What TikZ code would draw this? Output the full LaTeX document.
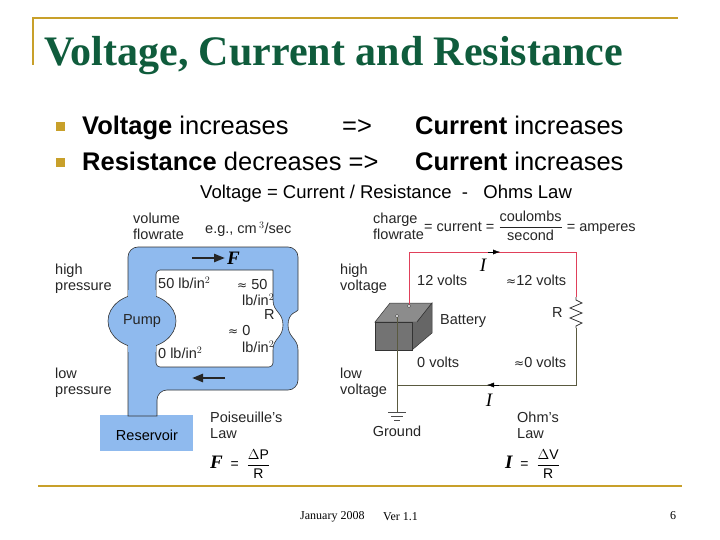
\documentclass[tikz,border=0pt]{standalone}
\usepackage{fontspec}
\setmainfont{Liberation Sans}
\newfontfamily\serif{Liberation Serif}
\newfontfamily\djsans{DejaVu Sans}
\usetikzlibrary{arrows.meta}
\definecolor{gold}{HTML}{C8A02A}
\definecolor{ttl}{HTML}{0F5C3C}
\definecolor{pipe}{HTML}{8FBAEE}
\definecolor{wire}{HTML}{E0405A}
\definecolor{olive}{HTML}{5A5A40}
\newcommand\approxs{{\djsans\fontsize{12}{12}\selectfont ≈}}
\tikzset{
 lbl/.style={anchor=west,inner sep=0pt,font=\fontsize{14.5}{16}\selectfont,text=black!85},
 clbl/.style={inner sep=0pt,font=\fontsize{14.5}{16}\selectfont,text=black!85},
 bul/.style={anchor=base west,inner sep=0pt,font=\fontsize{25.5}{28}\selectfont},
 foot/.style={inner sep=0pt,font=\serif\fontsize{12}{14}\selectfont},
 flow/.style={-{Triangle[length=11pt,width=8pt]},line width=2.4pt,black!85},
}
\begin{document}
\begin{tikzpicture}[x=1pt,y=-1pt]
\useasboundingbox (0,0) rectangle (720,540);
\fill[white] (0,0) rectangle (720,540);
% frame lines
\draw[gold,line width=1.6pt] (33,65) -- (33,18) -- (678,18);
\draw[gold,line width=1.6pt] (38,486) -- (682,486);
\node[anchor=west,inner sep=0pt,text=ttl,font=\serif\bfseries\fontsize{42}{44}\selectfont] (title) at (44,56) {Voltage, Current and Resistance};
% bullets
\fill[gold] (56,122) rectangle (65,131);
\fill[gold] (56,158) rectangle (65,167);
\node[bul] (b1) at (82,135) {\textbf{Voltage} increases};
\node[bul] (b1a) at (342,135) {=>};
\node[bul] (b1b) at (415,135) {\textbf{Current} increases};
\node[bul] (b2) at (82,171) {\textbf{Resistance} decreases =>};
\node[bul] (b2b) at (415,171) {\textbf{Current} increases};
\node[anchor=west,inner sep=0pt,font=\fontsize{18.5}{20}\selectfont] (ohm) at (200,194) {Voltage = Current / Resistance \ -\ \ \ Ohms Law};
% ---------- hydraulic ----------
\fill[pipe] (100,415) rectangle (193,451);
\draw[black!80,line width=0.6pt,fill=pipe,even odd rule,rounded corners=10pt]
 (128,416) -- (128,247) -- (298,247) -- (298,300) [sharp corners] .. controls (298,312) and (288,312) .. (288,325) .. controls (288,338) and (298,338) .. (298,350) [rounded corners=10pt] -- (298,390) -- (157,390) [sharp corners] -- (157,416) -- cycle
 (156,270) -- (273,270) [sharp corners] -- (273,300) .. controls (273,312) and (283,312) .. (283,325) .. controls (283,338) and (273,338) .. (273,350) [rounded corners=4pt] -- (273,367) -- (156,367) -- cycle;
\draw[black!80,line width=0.6pt,fill=pipe] (142,321) ellipse [x radius=34,y radius=27];
\fill[pipe] (128.4,290) rectangle (155.6,352);
\node[clbl] (pump) at (142,321) {Pump};
\node[clbl,text=black] (res) at (147,435) {Reservoir};
\coordinate (fa1) at (192,258); \coordinate (fa2) at (225,258);
\draw[flow] (fa1) -- (fa2);
\node[anchor=west,inner sep=0pt,font=\serif\itshape\bfseries\fontsize{19}{20}\selectfont] (F) at (227,258) {F};
\coordinate (ra1) at (225,378); \coordinate (ra2) at (192,378);
\draw[flow] (ra1) -- (ra2);
\node[lbl,align=left] (vf) at (133,226) {volume\\flowrate};
\node[lbl] (eg) at (205,229) {e.g., cm\,$^3$/sec};
\node[lbl,align=left] (hp) at (55,279) {high\\pressure};
\node[lbl] (p50) at (158,283) {50 lb/in$^2$};
\node[lbl] (a50) at (237,285) {\approxs{} 50};
\node[lbl] (u50) at (242,300) {lb/in$^2$};
\node[lbl] (R1) at (264,315) {R};
\node[lbl] (a0) at (228,331) {\approxs{} 0};
\node[lbl] (u0) at (242,347) {lb/in$^2$};
\node[lbl] (p0) at (158,353) {0 lb/in$^2$};
\node[lbl,align=left] (lp) at (55,383) {low\\pressure};
\node[lbl,align=left] (pl) at (210,425) {Poiseuille's\\Law};
\node[anchor=west,inner sep=0pt,font=\fontsize{14}{15}\selectfont] (fF) at (210,464) {{\serif\itshape\bfseries\fontsize{19}{20}\selectfont F} \ = \ $\displaystyle\frac{\Delta\mathrm{P}}{\mathrm{R}}$};
% ---------- circuit ----------
\node[lbl,align=left] (cf) at (373,226) {charge\\flowrate};
\node[lbl] (cur) at (424,226) {= current = $\displaystyle\frac{\mbox{coulombs}}{\mbox{second}}$ = amperes};
\coordinate (tp) at (409,306);
\coordinate (tn) at (397,316);
\coordinate (c1) at (409,252); \coordinate (c2) at (576,252);
\coordinate (r1) at (576,297); \coordinate (r2) at (576,328);
\coordinate (c3) at (576,385); \coordinate (c4) at (397,385);
\coordinate (gnd) at (397,412);
% battery
\draw[black!80,fill=black!45,line width=0.5pt] (375,322) -- (390,303) -- (432,303) -- (417,322) -- cycle;
\draw[black!80,fill=black!60,line width=0.5pt] (417,322) -- (432,303) -- (432,333) -- (412,350) -- (412,322);
\draw[black!80,fill=black!55,line width=0.5pt] (375,322) rectangle (412,350);
\draw[wire,line width=1pt] (tp) -- (c1) -- (c2) -- (r1);
\draw[black!80,line width=0.8pt] (r1) -- (576,300) -- (582,303) -- (570,308) -- (582,313) -- (570,318) -- (582,323) -- (576,326) -- (r2);
\draw[olive,line width=1pt] (r2) -- (c3) -- (c4);
\draw[olive,line width=1pt] (tn) -- (gnd);
\draw[black!80,fill=white] (tp) circle (1.6);
\draw[black!80,fill=white] (tn) circle (1.6);
\draw[black!70,line width=0.8pt] (388,412) -- (406,412) (391,416) -- (403,416) (394,420) -- (400,420);
\coordinate (ia1) at (488,252); \coordinate (ia2) at (500,252);
\draw[-{Latex[length=7pt,width=5pt]},black] (ia1) -- (ia2);
\coordinate (ib1) at (499,385); \coordinate (ib2) at (487,385);
\draw[-{Latex[length=7pt,width=5pt]},black] (ib1) -- (ib2);
\node[inner sep=0pt,font=\serif\itshape\fontsize{19}{20}\selectfont] (I1) at (483,265) {I};
\node[inner sep=0pt,font=\serif\itshape\fontsize{19}{20}\selectfont] (I2) at (489,400) {I};
\node[lbl,align=left] (hv) at (340,279) {high\\voltage};
\node[lbl] (v12) at (417,280) {12 volts};
\node[lbl] (a12) at (506,280) {\approxs{}12 volts};
\node[lbl] (bat) at (440,321) {Battery};
\node[lbl] (R2) at (552,313) {R};
\node[lbl] (v0) at (417,362) {0 volts};
\node[lbl] (a0v) at (514,362) {\approxs{}0 volts};
\node[lbl,align=left] (lv) at (340,383) {low\\voltage};
\node[clbl] (gr) at (397,431) {Ground};
\node[lbl,align=left] (ol) at (517,425) {Ohm's\\Law};
\node[anchor=west,inner sep=0pt,font=\fontsize{14}{15}\selectfont] (fI) at (505,464) {{\serif\itshape\bfseries\fontsize{19}{20}\selectfont I} \ = \ $\displaystyle\frac{\Delta\mathrm{V}}{\mathrm{R}}$};
% footer
\node[foot,anchor=west] (f1) at (300,517) {January 2008};
\node[foot,anchor=west] (f2) at (383,517) {Ver 1.1};
\node[foot] (f3) at (673,516) {6};
\end{tikzpicture}
\end{document}
